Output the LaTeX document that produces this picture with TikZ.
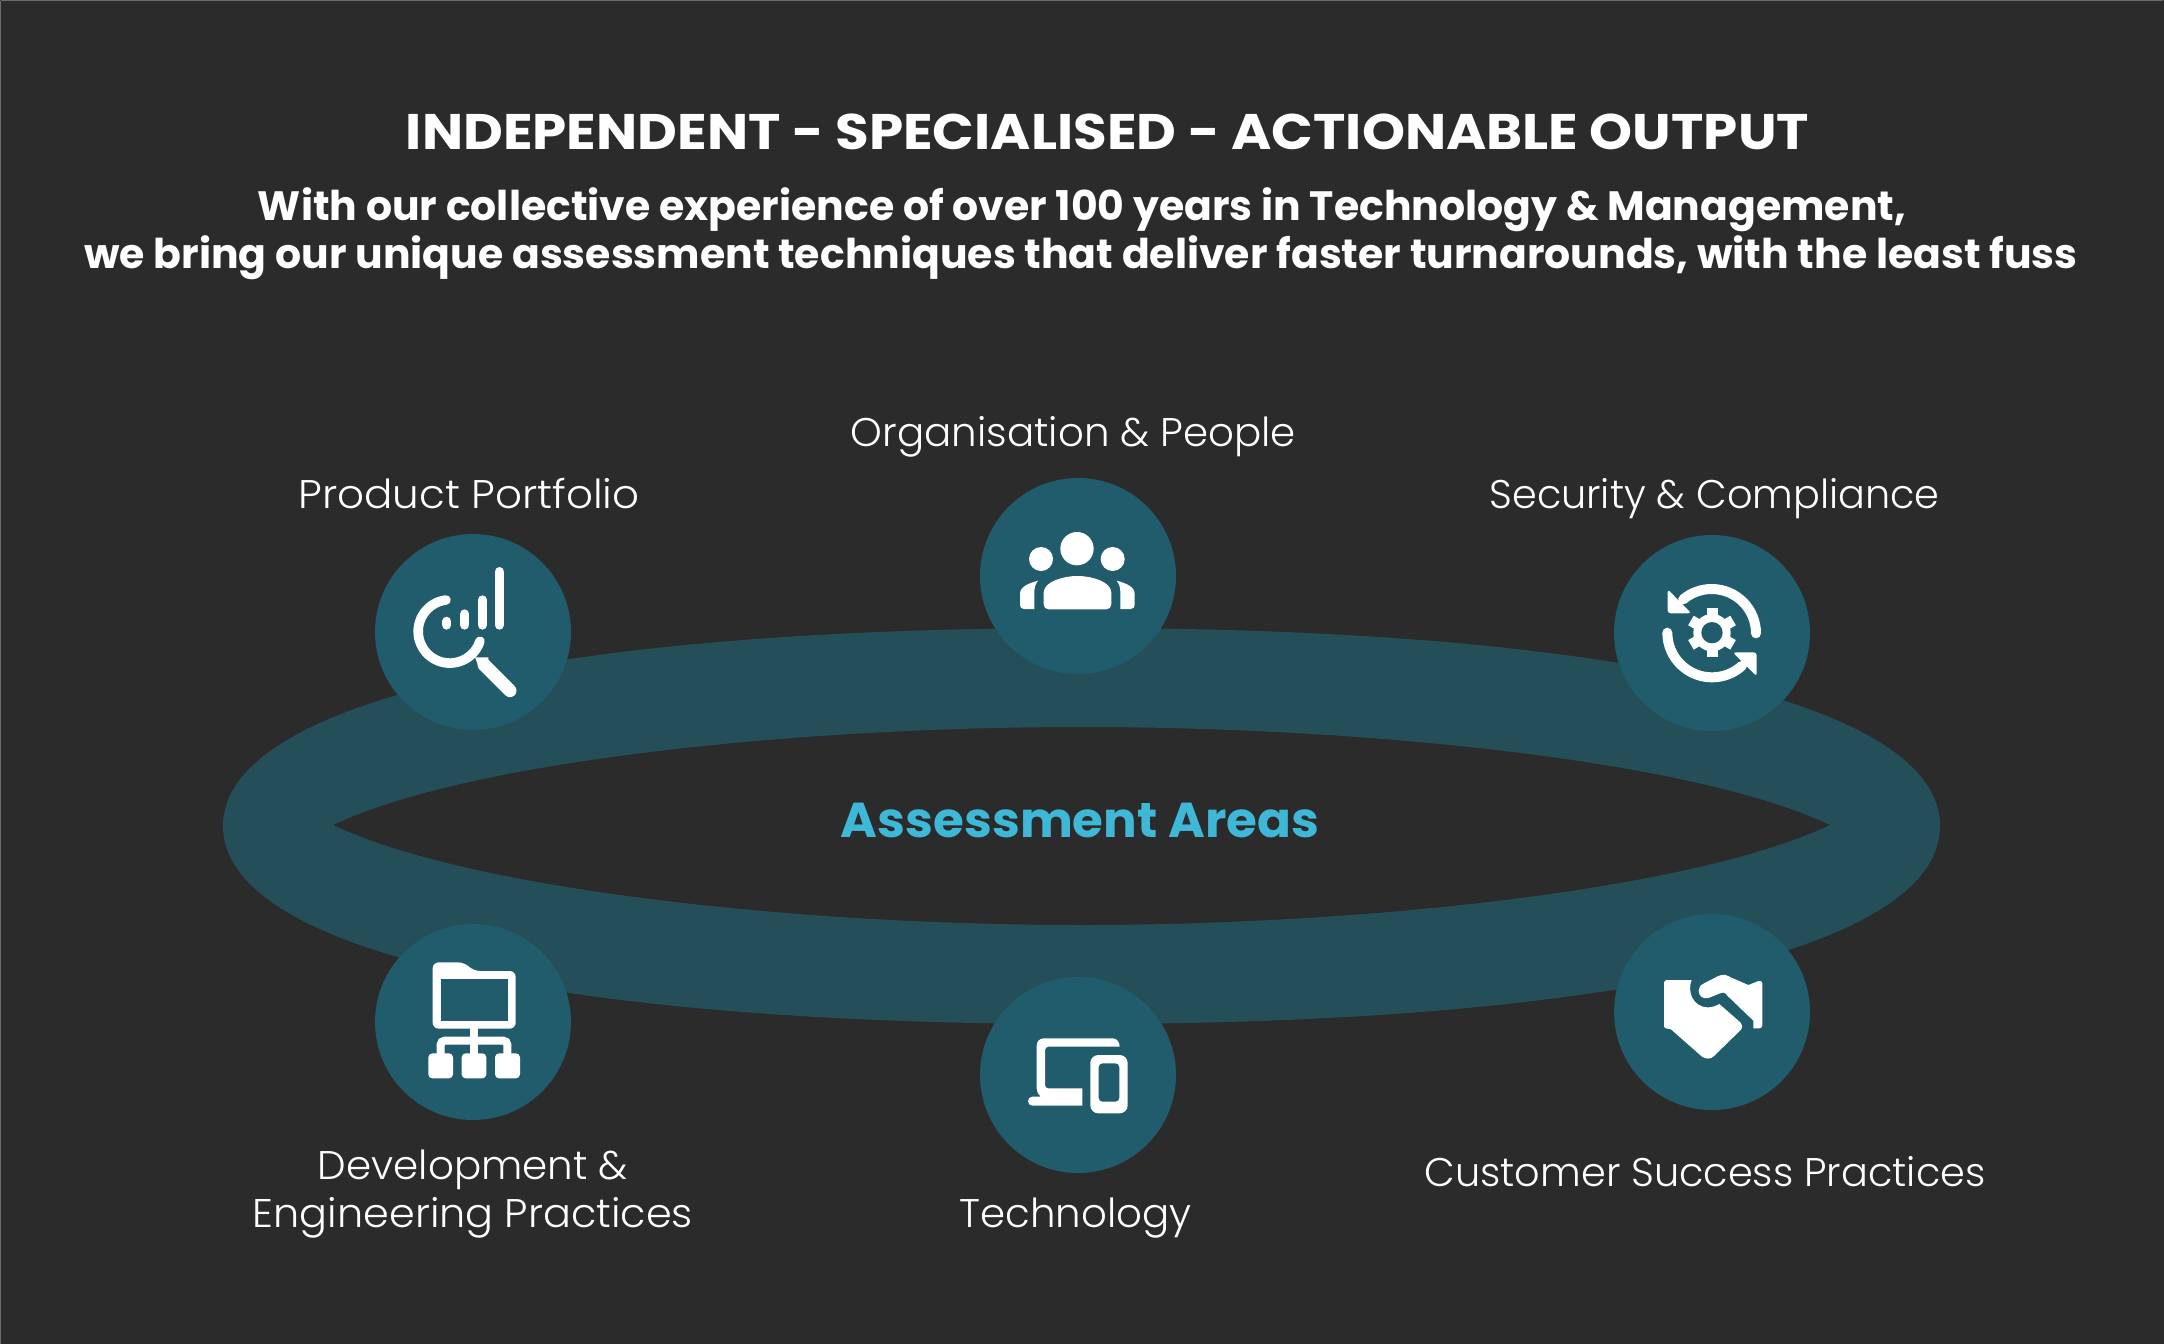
\documentclass[tikz,border=0pt]{standalone}
\usepackage{fontspec}
\usepackage{graphicx}
\setmainfont{Poppins}
\newfontfamily\labfont{Poppins Light}
\newfontfamily\headfont{Poppins SemiBold}
\newfontfamily\boldfont{Poppins Bold}
\definecolor{bgc}{HTML}{2B2B2B}
\definecolor{ringc}{HTML}{244F58}
\definecolor{circc}{HTML}{205C6B}
\definecolor{accentc}{HTML}{3FB8D8}
\newcommand\fitw[2]{\resizebox{#1pt}{\height}{#2}}
\tikzset{
  txt/.style={inner sep=0pt,outer sep=0pt,anchor=base,text=white},
  titletxt/.style={txt,font=\boldfont\fontsize{50}{50}\selectfont},
  subtxt/.style={txt,font=\boldfont\fontsize{41}{41}\selectfont},
  labtxt/.style={txt,font=\labfont\fontsize{40}{40}\selectfont},
  disc/.style={circle,fill=circc,minimum size=196pt,inner sep=0pt,outer sep=0pt},
  ic/.style={fill=white,draw=none},
  icl/.style={draw=white,line width=#1,line cap=round,line join=round},
  hole/.style={fill=circc,draw=none},
  zoomed/.style={shift={(#1)},x=0.33333pt,y=-0.33333pt}
}
\begin{document}
\begin{tikzpicture}[x=1pt,y=-1pt]
\useasboundingbox (0,0) rectangle (2164,1344);
\fill[bgc] (0,0) rectangle (2164,1344);
\draw[color=white!30!bgc,line width=1.4pt] (0.7,0.7) -- (2163.3,0.7);
\draw[color=white!30!bgc,line width=1.4pt] (0.7,0.7) -- (0.7,1344);

% ring
\fill[ringc,even odd rule]
  (223,826) .. controls (223,700) and (560,628) .. (1081.5,628)
  .. controls (1603,628) and (1940,700) .. (1940,826)
  .. controls (1940,952) and (1603,1024) .. (1081.5,1024)
  .. controls (560,1024) and (223,952) .. (223,826) -- cycle
  (333,825) .. controls (470,760) and (800,727) .. (1081.5,727)
  .. controls (1363,727) and (1693,760) .. (1830,825)
  .. controls (1693,890) and (1363,925) .. (1081.5,925)
  .. controls (800,925) and (470,890) .. (333,825) -- cycle;

% discs
\node[disc] (d1) at (473,632) {};
\node[disc] (d2) at (1078,576) {};
\node[disc] (d3) at (1712,633) {};
\node[disc] (d4) at (473,1022) {};
\node[disc] (d5) at (1078,1075) {};
\node[disc] (d6) at (1712,1012) {};

% icon: product portfolio
\begin{scope}[zoomed={360,520}]
  \draw[icl=9.3pt] (418,155) -- (418,315);
  \draw[icl=9.3pt] (367,240) -- (367,315);
  \draw[icl=9.3pt] (314,282) -- (314,315);
  \draw[icl=9.3pt] (260,304) -- (260,315);
  \draw[icl=9.6pt] (258,240) arc[start angle=-97,end angle=-342,radius=95];
  \draw[draw=white,line width=13pt,line cap=round] (372,434) -- (450,512);
  \fill[ic] (345,412) -- (385,412) -- (385,440) -- (360,450) -- cycle;
\end{scope}

% icon: organisation
\begin{scope}[zoomed={970,470}]
  \fill[ic] (321,236) circle[radius=50];
  \fill[ic] (213,267) circle[radius=36];
  \fill[ic] (428,267) circle[radius=36];
  \fill[ic] (221,368) .. controls (221,335) and (280,318) .. (322,318)
     .. controls (365,318) and (424,335) .. (424,368) -- (424,403)
     .. controls (424,412) and (418,418) .. (409,418) -- (236,418)
     .. controls (227,418) and (221,412) .. (221,403) -- cycle;
  \fill[ic] (204,332) .. controls (175,340) and (150,350) .. (150,372) -- (150,405)
     .. controls (150,412) and (155,417) .. (162,417) -- (193,417) -- (193,365)
     .. controls (193,350) and (198,340) .. (204,332) -- cycle;
  \fill[ic] (440,332) .. controls (469,340) and (494,350) .. (494,372) -- (494,405)
     .. controls (494,412) and (489,417) .. (482,417) -- (451,417) -- (451,365)
     .. controls (451,350) and (446,340) .. (440,332) -- cycle;
\end{scope}

% icon: security
\begin{scope}[zoomed={1600,525}]
  \fill[ic] (336,323) circle[radius=56];
  \foreach \a in {30,90,150,210,270,330}
    \draw[draw=white,line width=11pt] (336,323)+(\a:45) -- +(\a:73);
  \fill[hole] (336,323) circle[radius=32];
  \draw[icl=10pt] (468,325) arc[start angle=0,end angle=-130,radius=133];
  \draw[icl=10pt] (202,323) arc[start angle=180,end angle=48,radius=134];
  \fill[ic,rounded corners=3pt] (203,193) -- (203,265) -- (274,265) -- cycle;
  \fill[ic,rounded corners=3pt] (470,382) -- (470,454) -- (398,382) -- cycle;
\end{scope}

% icon: development
\begin{scope}[zoomed={360,910}]
  \fill[ic,rounded corners=6pt] (218,157) -- (312,157) -- (342,183) -- (467,183)
     -- (467,356) -- (218,356) -- cycle;
  \fill[hole] (242,208) rectangle (443,332);
  \draw[draw=white,line width=8pt] (342,350) -- (342,435);
  \draw[draw=white,line width=8pt,rounded corners=4pt] (242,438) -- (242,392) -- (442,392) -- (442,438);
  \fill[ic,rounded corners=4pt] (205,430) rectangle (279,505);
  \fill[ic,rounded corners=4pt] (305,430) rectangle (379,505);
  \fill[ic,rounded corners=4pt] (405,430) rectangle (480,505);
\end{scope}

% icon: technology
\begin{scope}[zoomed={970,965}]
  \fill[ic] (449,245) .. controls (449,230) and (440,220) .. (428,220) -- (222,220)
     .. controls (208,220) and (200,230) .. (200,242) -- (200,370)
     .. controls (200,380) and (205,390) .. (212,395) -- (187,395)
     .. controls (170,395) and (170,422) .. (187,422) -- (337,422) -- (337,370)
     -- (235,370) .. controls (229,370) and (225,366) .. (225,360) -- (225,256)
     .. controls (225,250) and (229,245) .. (235,245) -- cycle;
  \fill[ic,rounded corners=8pt] (361,270) rectangle (473,445);
  \fill[hole,rounded corners=4pt] (386,295) rectangle (448,410);
\end{scope}

% icon: customer success
\begin{scope}[zoomed={1600,900}]
  \fill[ic] (198,240) -- (275,240) .. controls (262,270) and (275,322) .. (325,322)
     .. controls (340,322) and (350,316) .. (358,312) -- (422,368)
     .. controls (428,375) and (428,382) .. (422,390) -- (342,468)
     .. controls (332,478) and (318,478) .. (306,470) -- (213,388) -- (197,385)
     .. controls (194,385) and (192,383) .. (192,380) -- (192,246)
     .. controls (192,243) and (195,240) .. (198,240) -- cycle;
  \fill[ic] (296,272) .. controls (296,262) and (302,255) .. (312,250)
     -- (355,228) .. controls (368,222) and (380,224) .. (392,232) -- (445,255) -- (475,243)
     .. controls (483,241) and (487,245) .. (487,250) -- (487,375)
     .. controls (487,382) and (483,385) .. (478,385) -- (460,385) -- (460,362)
     -- (382,287) .. controls (375,276) and (368,276) .. (360,280) -- (325,294)
     .. controls (308,298) and (296,288) .. (296,272) -- cycle;
\end{scope}

% texts
\node[titletxt] (title) at (1107.5,149) {\fitw{1403}{INDEPENDENT - SPECIALISED - ACTIONABLE OUTPUT}};
\node[subtxt] (sub1) at (1082,220) {\fitw{1648}{With our collective experience of over 100 years in Technology \& Management,}};
\node[subtxt] (sub2) at (1081,268) {\fitw{1993}{we bring our unique assessment techniques that deliver faster turnarounds, with the least fuss}};
\node[labtxt] (l2) at (1073.5,446) {\fitw{445}{Organisation \& People}};
\node[labtxt] (l1) at (469,508) {\fitw{341}{Product Portfolio}};
\node[labtxt] (l3) at (1714.5,508) {\fitw{450}{Security \& Compliance}};
\node[labtxt] (l4a) at (473,1179) {\fitw{310}{Development \&}};
\node[labtxt] (l4b) at (473,1227) {\fitw{440}{Engineering Practices}};
\node[labtxt] (l5) at (1075.5,1227) {\fitw{232}{Technology}};
\node[labtxt] (l6) at (1705,1186) {\fitw{561}{Customer Success Practices}};
\node[txt,text=accentc,font=\boldfont\fontsize{49}{49}\selectfont] (center) at (1080,837) {\fitw{478}{Assessment Areas}};
\end{tikzpicture}
\end{document}
